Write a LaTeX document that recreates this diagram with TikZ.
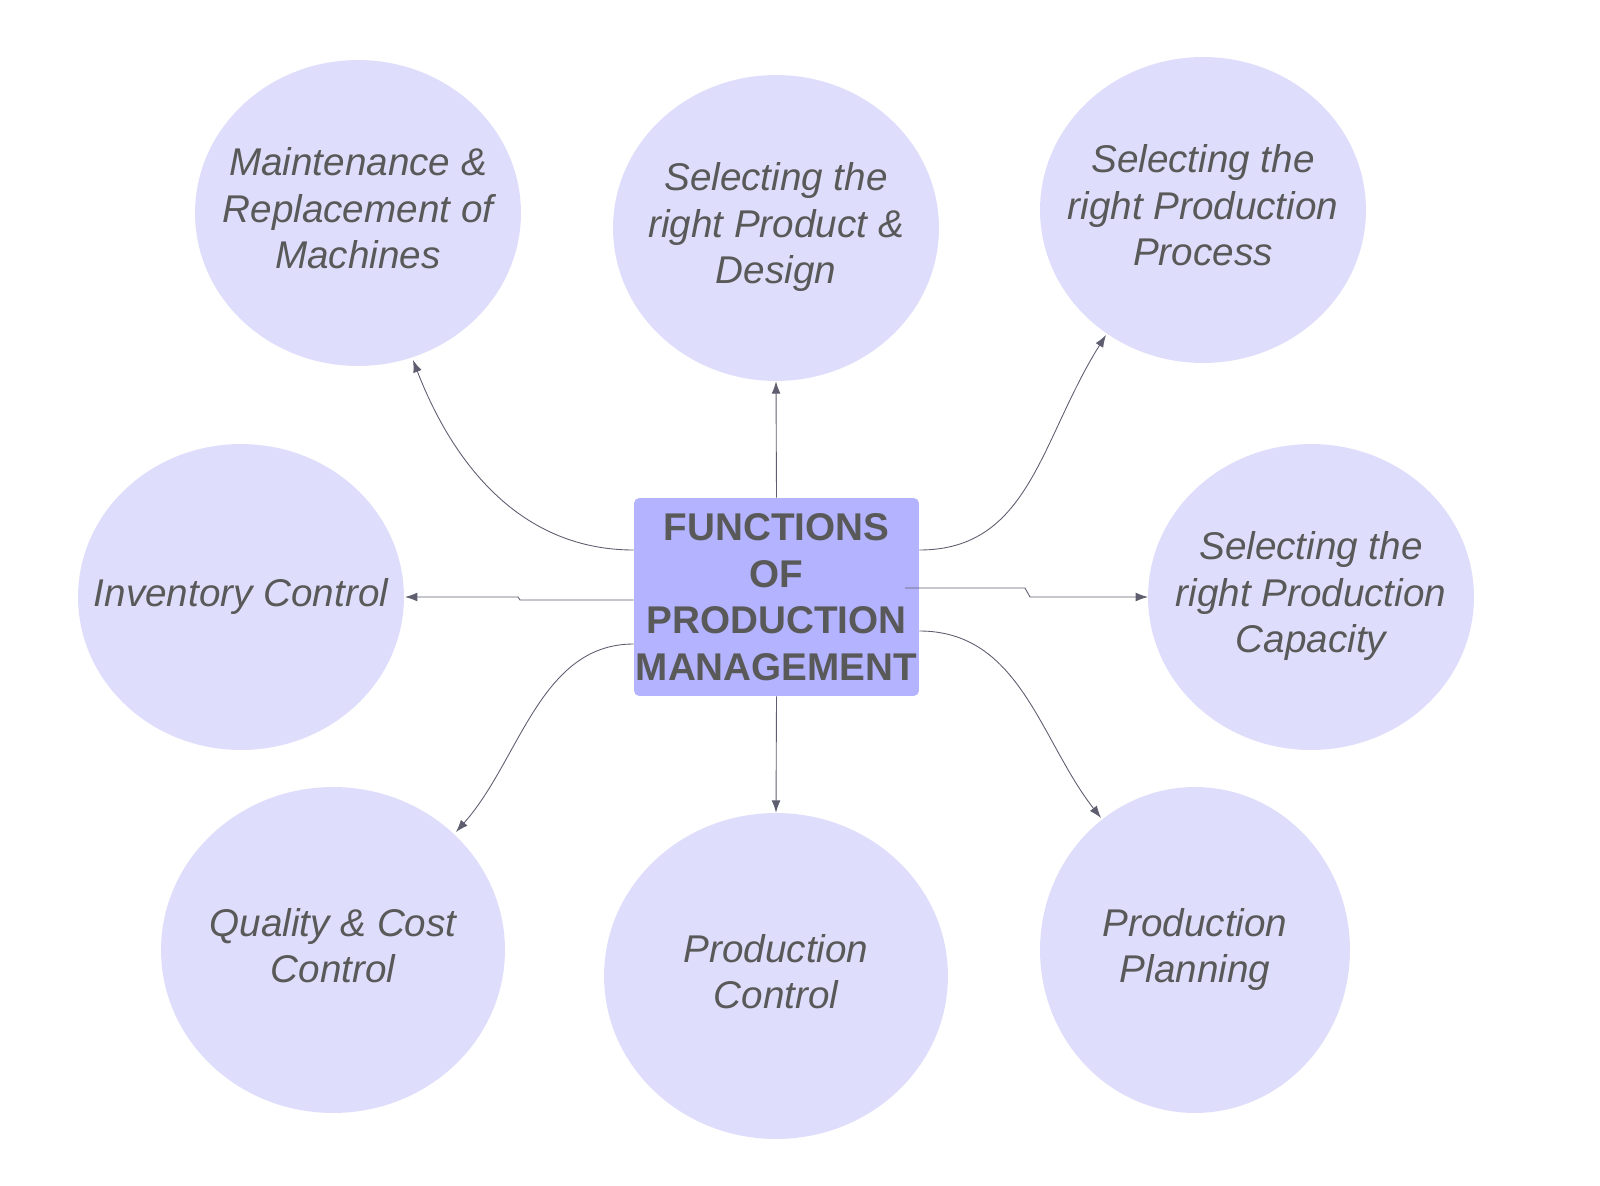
\documentclass[tikz,border=0pt]{standalone}
\usepackage{fontspec}
\setmainfont{Liberation Sans}
\usetikzlibrary{shapes.geometric,arrows.meta}
\definecolor{ellfill}{HTML}{DEDEFC}
\definecolor{boxfill}{HTML}{B3B3FF}
\definecolor{txt}{HTML}{595959}
\definecolor{ln}{HTML}{5E5E70}
\newcommand{\bubtext}[1]{\makebox[0pt]{\begin{tabular}{@{}c@{}}#1\end{tabular}}}
\begin{document}
\begin{tikzpicture}[x=0.02cm,y=-0.02cm,
  bub/.style={ellipse,fill=ellfill,draw=none,inner sep=0pt,text=txt,
    font=\fontsize{22}{26.5}\selectfont\itshape},
  conn/.style={draw=ln,line width=0.5pt,-{Latex[length=7pt,width=5pt]}}]
\useasboundingbox (0,0) rectangle (1600,1186);
\node[bub,minimum width=6.52cm,minimum height=6.12cm] (m) at (358,213) {\bubtext{Maintenance \&\\Replacement of\\Machines}};
\node[bub,minimum width=6.52cm,minimum height=6.12cm] (p) at (776,228) {\bubtext{Selecting the\\right Product \&\\Design}};
\node[bub,minimum width=6.52cm,minimum height=6.12cm] (pp) at (1203,210) {\bubtext{Selecting the\\right Production\\Process}};
\node[bub,minimum width=6.52cm,minimum height=6.12cm] (i) at (241,597) {\bubtext{Inventory Control}};
\node[bub,minimum width=6.52cm,minimum height=6.12cm] (c) at (1311,597) {\bubtext{Selecting the\\right Production\\Capacity}};
\node[bub,minimum width=6.88cm,minimum height=6.52cm] (q) at (333,950) {\bubtext{Quality \& Cost\\Control}};
\node[bub,minimum width=6.88cm,minimum height=6.52cm] (pc) at (776,976) {\bubtext{Production\\Control}};
\node[bub,minimum width=6.2cm,minimum height=6.52cm] (pl) at (1195,950) {\bubtext{Production\\Planning}};
\node[fill=boxfill,rounded corners=3pt,minimum width=5.7cm,minimum height=3.96cm,inner sep=0pt,
  text=txt,align=center,font=\fontsize{22}{26.5}\selectfont\bfseries] (f) at (776.5,597) {FUNCTIONS\\OF\\PRODUCTION\\MANAGEMENT};
\coordinate (a1) at (413,360);
\coordinate (a3) at (1106,335);
\coordinate (a4) at (405,597);
\coordinate (a5) at (1148,597);
\coordinate (a6) at (456,832);
\coordinate (a8) at (1101,818);
\draw[conn] (f.west |- 0,550) .. controls (500,550) and (440,430) .. (a1);
\draw[conn] (f.north) -- (p.south);
\draw[conn] (f.east |- 0,550) .. controls (1030,550) and (1040,440) .. (a3);
\draw[conn] (f.west |- 0,600) -- (520,600) -- (518,597) -- (a4);
\draw[conn] (905,588) -- (1025,588) -- (1030,597) -- (a5);
\draw[conn] (f.west |- 0,644) .. controls (540,644) and (520,760) .. (a6);
\draw[conn] (f.south) -- (pc.north);
\draw[conn] (f.east |- 0,631) .. controls (1020,631) and (1040,740) .. (a8);
\end{tikzpicture}
\end{document}
